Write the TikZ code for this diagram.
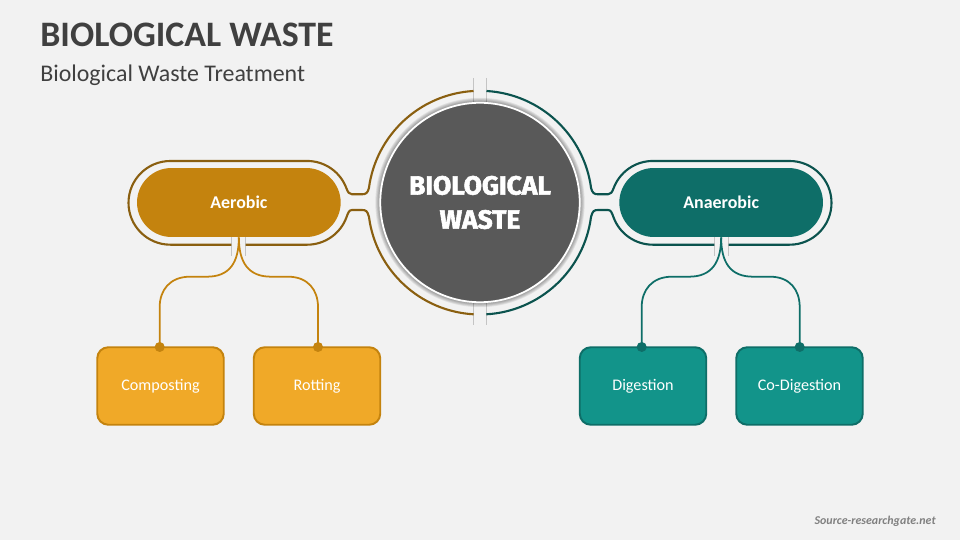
\documentclass[tikz,border=0pt]{standalone}
\usepackage{fontspec}
\setmainfont{Carlito}
\newfontfamily\hubfont[BoldFeatures={FakeBold=2.2}]{Fira Sans}
\definecolor{bgpage}{HTML}{F2F2F2}
\definecolor{inktitle}{HTML}{404040}
\definecolor{hubgrey}{HTML}{595959}
\definecolor{aeroline}{HTML}{8A5F10}
\definecolor{aerofill}{HTML}{C4830E}
\definecolor{aerobox}{HTML}{F0A928}
\definecolor{anaeline}{HTML}{0B534E}
\definecolor{anaefill}{HTML}{0E6E68}
\definecolor{anaebox}{HTML}{12948A}
\definecolor{gapgrey}{HTML}{C4C4C4}
\tikzset{
  pill/.style={rectangle,rounded corners=0.69cm,minimum width=4.074cm,minimum height=1.38cm,inner sep=0pt,text=white,font=\fontsize{10.2pt}{12pt}\selectfont\bfseries},
  leafbox/.style={rectangle,draw,line width=1.1pt,rounded corners=0.22cm,minimum width=2.53cm,minimum height=1.55cm,inner sep=0pt,text=white,font=\fontsize{9.2pt}{11pt}\selectfont},
  dot/.style={circle,inner sep=0pt,minimum size=0.2cm},
  ring/.style={line width=1.2pt},
  branch/.style={line width=1pt},
  gapmark/.style={gapgrey,line width=0.6pt}
}
\begin{document}
\begin{tikzpicture}[x=0.02cm,y=-0.02cm]
    \useasboundingbox (0,0) rectangle (960,540);
    \fill[bgpage] (0,0) rectangle (960,540);
    % Titles
    \node[anchor=west,inner sep=0pt,text=inktitle,font=\fontsize{20.4pt}{24pt}\selectfont\bfseries] (title) at (40,34.5) {BIOLOGICAL WASTE};
    \node[anchor=west,inner sep=0pt,text=inktitle,font=\fontsize{13.6pt}{16pt}\selectfont] (subtitle) at (40,75.5) {Biological Waste Treatment};
    \node[anchor=east,inner sep=0pt,text=gray,font=\fontsize{6.8pt}{8pt}\selectfont\bfseries\itshape] (source) at (936,521) {Source-researchgate.net};
    % Gap marks
    \coordinate (topL) at (473.5,91);
    \coordinate (topR) at (486.5,91);
    \coordinate (gapAL) at (231.3,244.7);
    \coordinate (gapAR) at (245.7,244.7);
    \coordinate (gapBL) at (714.3,244.7);
    \coordinate (gapBR) at (728.7,244.7);
    \foreach \xa in {473.5,486.5} {
        \draw[gapmark] (\xa,78) -- (\xa,102);
        \draw[gapmark] (\xa,302) -- (\xa,325);
    }
    \foreach \xa in {231.3,245.7,714.3,728.7} {
        \draw[gapmark] (\xa,237) -- (\xa,256);
    }
    % Hub shadow
    \foreach \rr in {4.2,3.4,2.6,1.8,1} {
        \fill[black,opacity=0.07] (480,202.5) circle[radius=100.5+\rr];
    }
    % Nodes
    \node[circle,fill=hubgrey,draw=white,line width=1pt,minimum size=3.99cm,inner sep=0pt,text=white,align=center,font=\hubfont\fontsize{15pt}{19.4pt}\selectfont\bfseries] (hub) at (480,202.5) {BIOLOGICAL\\WASTE};
    \node[pill,fill=aerofill] (aerobic) at (238.85,202.5) {Aerobic};
    \node[pill,fill=anaefill] (anaerobic) at (721.15,202.5) {Anaerobic};
    \node[leafbox,fill=aerobox,draw=aerofill] (composting) at (160.5,386) {Composting};
    \node[leafbox,fill=aerobox,draw=aerofill] (rotting) at (317,386) {Rotting};
    \node[leafbox,fill=anaebox,draw=anaefill] (digestion) at (643,386) {Digestion};
    \node[leafbox,fill=anaebox,draw=anaefill] (codigestion) at (799.5,386) {Co-Digestion};
    \node[dot,fill=aerofill] (dotA) at (159.7,347) {};
    \node[dot,fill=aerofill] (dotB) at (318,347) {};
    \node[dot,fill=anaefill] (dotC) at (641.7,347) {};
    \node[dot,fill=anaefill] (dotD) at (799.7,347) {};
    % Rings around the hub and the pills
    \draw[ring,aeroline] (topL) arc[start angle=266.7,end angle=187.5,radius=112] .. controls (367.5,193) and (366,194.3) .. (362,194.3) -- (352,194.3) .. controls (349,194.3) and (348,192) .. (346.5,188.5) arc[start angle=-20,end angle=-90,radius=41.85] -- (170.35,161) arc[start angle=-90,end angle=-270,radius=41.85] -- (gapAL);
    \draw[ring,aeroline] (gapAR) -- (307.2,244.7) arc[start angle=90,end angle=20,radius=41.85] .. controls (348,213) and (349,210) .. (352,210) -- (362,210) .. controls (366,210) and (367.5,211) .. (369,217.1) arc[start angle=172.5,end angle=93.3,radius=112];
    \draw[ring,anaeline] (topR) arc[start angle=-86.7,end angle=-7.5,radius=112] .. controls (592.5,193) and (594,194.3) .. (598,194.3) -- (608,194.3) .. controls (611,194.3) and (612,192) .. (613.5,188.5) arc[start angle=200,end angle=270,radius=41.85] -- (789.65,161) arc[start angle=-90,end angle=90,radius=41.85] -- (gapBR);
    \draw[ring,anaeline] (gapBL) -- (652.8,244.7) arc[start angle=90,end angle=160,radius=41.85] .. controls (612,213) and (611,210) .. (608,210) -- (598,210) .. controls (594,210) and (592.5,211) .. (591,217.1) arc[start angle=7.5,end angle=86.7,radius=112];
    % Branches
    \draw[branch,aerofill] (aerobic.south) .. controls (238.85,262) and (230,276.7) .. (207,276.7) -- (190,276.7) .. controls (170,276.7) and (159.7,290) .. (159.7,307) -- (dotA.center);
    \draw[branch,aerofill] (aerobic.south) .. controls (238.85,262) and (248,276.7) .. (271,276.7) -- (288,276.7) .. controls (308,276.7) and (318,290) .. (318,307) -- (dotB.center);
    \draw[branch,anaefill] (anaerobic.south) .. controls (721.15,262) and (712,276.7) .. (689,276.7) -- (672,276.7) .. controls (652,276.7) and (641.7,290) .. (641.7,307) -- (dotC.center);
    \draw[branch,anaefill] (anaerobic.south) .. controls (721.15,262) and (730,276.7) .. (753,276.7) -- (770,276.7) .. controls (790,276.7) and (799.7,290) .. (799.7,307) -- (dotD.center);
\end{tikzpicture}
\end{document}
